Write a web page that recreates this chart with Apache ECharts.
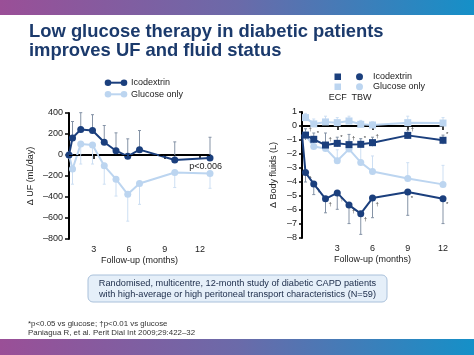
<!DOCTYPE html>
<html><head><meta charset="utf-8">
<script src="https://cdn.jsdelivr.net/npm/echarts@6/dist/echarts.min.js"></script>
<style>html,body{margin:0;padding:0;background:#fff}#c{width:474px;height:355px}</style>
</head><body><div id="c"></div>
<script>
// ---- Left panel: change in UF (mL/day) ----
const monthsUF = [0, 0.3, 1, 2, 3, 4, 5, 6, 9, 12];
const ufIco = [0, 163, 243, 233, 121, 41, -13, 51, -48, -29];
const ufIcoHigh = [null, 319, 403, 384, 281, 211, 154, 233, 125, 169];
const ufGlu = [0, -134, 105, 96, -103, -230, -374, -272, -167, -177];
const ufGluLow = [null, -278, -86, -86, -278, -391, -630, -470, -310, -317];
const ufTickPos = [2.1, 5.1, 8.15, 11.15];
const ufTickLabels = ['3', '6', '9', '12'];

// ---- Right panel: change in body fluids (L) ----
const monthsBF = [0.3, 1, 2, 3, 4, 5, 6, 9, 12];
const ecfIco = [-0.65, -0.95, -1.36, -1.24, -1.33, -1.31, -1.19, -0.67, -1.02];
const ecfIcoHigh = [-0.2, -0.5, -0.5, -0.8, -0.6, -0.9, -0.8, -0.3, -0.65];
const ecfIcoLow = [-1.0, -1.2, -1.6, -1.5, -1.6, -1.55, -1.45, -0.9, -1.3];
const ecfGlu = [0.6, 0.15, 0.29, 0.24, 0.36, 0.12, 0.07, 0.24, 0.21];
const ecfGluHigh = [0.9, 0.5, 0.7, 0.6, 0.7, 0.4, 0.3, 0.7, 0.6];
const tbwIco = [-3.33, -4.14, -5.2, -4.78, -5.65, -6.26, -5.15, -4.71, -5.2];
const tbwIcoLow = [-4.0, -4.9, -6.2, -5.95, -6.97, -7.74, -6.55, -6.38, -6.97];
const tbwGlu = [-0.65, -1.47, -1.6, -2.48, -1.65, -2.6, -3.25, -3.75, -4.17];
const tbwGluHigh = [-0.2, -1.1, -1.2, -1.7, -1.0, -1.0, -2.14, -2.62, -2.81];
const sigEcf = ['†', '*', '†', '*', '†', '*', '†', '†', '*'];
const sigTbw = ['†', '†', '†', '†', '†', '†', '†', '*', '*'];
const bfTicks = [3, 6, 9, 12];

const DARK = '#1b3f7d', LIGHT = '#bcd5f0', BARD = '#8593a6', BARL = '#cddff3';
const zip = (xs, ys) => xs.map((x, i) => [x, ys[i]]);

function errBar(color, capAtHigh, sig, sigDy) {
  return function (params, api) {
    const x = api.value(0), lo = api.value(1), hi = api.value(2);
    const a = api.coord([x, lo]), b = api.coord([x, hi]);
    const cap = capAtHigh ? b : a;
    const ch = [
      {type: 'line', shape: {x1: a[0], y1: a[1], x2: b[0], y2: b[1]}, style: {stroke: color, lineWidth: 1}},
      {type: 'line', shape: {x1: cap[0] - 1.5, y1: cap[1], x2: cap[0] + 1.5, y2: cap[1]}, style: {stroke: color, lineWidth: 1}}
    ];
    if (sig) {
      const pv = api.coord([x, api.value(3)]);
      ch.push({type: 'text', style: {text: sig[params.dataIndex], x: pv[0] + 3, y: pv[1] + sigDy, fontSize: 6, fill: '#333', fontFamily: 'Liberation Sans'}});
    }
    return {type: 'group', children: ch};
  };
}

const axisFont = {fontSize: 9, color: '#222', fontFamily: 'Liberation Sans'};
const chart = echarts.init(document.getElementById('c'), null, {renderer: 'canvas'});

chart.setOption({
  animation: false,
  textStyle: {fontFamily: 'Liberation Sans'},
  title: {
    text: 'Low glucose therapy in diabetic patients\nimproves UF and fluid status',
    left: 29, top: 22, padding: 0,
    textStyle: {fontSize: 18.4, fontWeight: 'bold', color: '#1b3a6c', lineHeight: 19, fontFamily: 'Liberation Sans'}
  },
  grid: [
    {left: 69, right: 264, top: 113, bottom: 116},
    {left: 302, right: 31, top: 112, bottom: 117}
  ],
  xAxis: [
    {type: 'value', gridIndex: 0, min: 0, max: 12,
      name: 'Follow-up (months)', nameLocation: 'middle', nameGap: 17, nameTextStyle: axisFont,
      axisLine: {lineStyle: {color: '#000', width: 2}},
      axisTick: {show: true, length: 4, inside: false, customValues: ufTickPos, lineStyle: {color: '#000', width: 1.5}},
      axisLabel: Object.assign({margin: 6, customValues: ufTickPos,
        formatter: v => ufTickLabels[ufTickPos.findIndex(p => Math.abs(p - v) < 1e-6)]}, axisFont),
      splitLine: {show: false}},
    {type: 'value', gridIndex: 1, min: 0, max: 12,
      name: 'Follow-up (months)', nameLocation: 'middle', nameGap: 17, nameTextStyle: axisFont,
      axisLine: {lineStyle: {color: '#000', width: 2}},
      axisTick: {show: true, length: 4, customValues: bfTicks, lineStyle: {color: '#000', width: 1.5}},
      axisLabel: Object.assign({margin: 6, customValues: bfTicks}, axisFont),
      splitLine: {show: false}}
  ],
  yAxis: [
    {type: 'value', gridIndex: 0, min: -800, max: 400, interval: 200,
      name: 'Δ UF (mL/day)', nameLocation: 'middle', nameGap: 34, nameTextStyle: axisFont,
      axisLine: {show: true, lineStyle: {color: '#000', width: 2}},
      axisTick: {show: true, length: 4, lineStyle: {color: '#000', width: 1.5}},
      axisLabel: Object.assign({margin: 6, formatter: v => String(v).replace('-', '–')}, axisFont),
      splitLine: {show: false}},
    {type: 'value', gridIndex: 1, min: -8, max: 1, interval: 1,
      name: 'Δ Body fluids (L)', nameLocation: 'middle', nameGap: 24, nameTextStyle: axisFont,
      axisLine: {show: true, lineStyle: {color: '#000', width: 2}},
      axisTick: {show: true, length: 3, lineStyle: {color: '#000', width: 1.5}},
      axisLabel: Object.assign({margin: 5, formatter: v => String(v).replace('-', '–')}, axisFont),
      splitLine: {show: false}}
  ],
  series: [
    // left error bars
    {type: 'custom', xAxisIndex: 0, yAxisIndex: 0, z: 1, renderItem: errBar(BARL, false),
      data: monthsUF.map((m, i) => [m, ufGluLow[i], ufGlu[i]]).filter((d, i) => ufGluLow[i] !== null)},
    {type: 'custom', xAxisIndex: 0, yAxisIndex: 0, z: 1, renderItem: errBar(BARD, true),
      data: monthsUF.map((m, i) => [m, ufIco[i], ufIcoHigh[i]]).filter((d, i) => ufIcoHigh[i] !== null)},
    {name: 'Glucose only', type: 'line', xAxisIndex: 0, yAxisIndex: 0, z: 3, data: zip(monthsUF, ufGlu),
      symbol: 'circle', symbolSize: 7, lineStyle: {color: LIGHT, width: 2}, itemStyle: {color: LIGHT}},
    {name: 'Icodextrin', type: 'line', xAxisIndex: 0, yAxisIndex: 0, z: 4, data: zip(monthsUF, ufIco),
      symbol: 'circle', symbolSize: 7, lineStyle: {color: DARK, width: 2}, itemStyle: {color: DARK},
      markLine: {silent: true, symbol: 'none', label: {show: false}, lineStyle: {color: '#000', type: [4, 2], width: 1.2},
        data: [[{coord: [0, 0]}, {coord: [12, 0]}]]}},
    // right error bars
    {type: 'custom', xAxisIndex: 1, yAxisIndex: 1, z: 1, renderItem: errBar(BARL, true),
      data: monthsBF.map((m, i) => [m, ecfGlu[i], ecfGluHigh[i]])},
    {type: 'custom', xAxisIndex: 1, yAxisIndex: 1, z: 1, renderItem: errBar(BARL, true),
      data: monthsBF.map((m, i) => [m, tbwGlu[i], tbwGluHigh[i]])},
    {type: 'custom', xAxisIndex: 1, yAxisIndex: 1, z: 1, renderItem: errBar(BARD, true, sigEcf, -9),
      data: monthsBF.map((m, i) => [m, ecfIcoLow[i], ecfIcoHigh[i], ecfIco[i]])},
    {type: 'custom', xAxisIndex: 1, yAxisIndex: 1, z: 1, renderItem: errBar(BARD, false, sigTbw, 3),
      data: monthsBF.map((m, i) => [m, tbwIcoLow[i], tbwIco[i], tbwIco[i]])},
    {name: 'ECF Glucose only', type: 'line', xAxisIndex: 1, yAxisIndex: 1, z: 3, data: zip(monthsBF, ecfGlu),
      symbol: 'rect', symbolSize: 7, lineStyle: {color: LIGHT, width: 2}, itemStyle: {color: LIGHT}},
    {name: 'TBW Glucose only', type: 'line', xAxisIndex: 1, yAxisIndex: 1, z: 3, data: zip(monthsBF, tbwGlu),
      symbol: 'circle', symbolSize: 7, lineStyle: {color: LIGHT, width: 2}, itemStyle: {color: LIGHT}},
    {name: 'ECF Icodextrin', type: 'line', xAxisIndex: 1, yAxisIndex: 1, z: 4, data: zip(monthsBF, ecfIco),
      symbol: 'rect', symbolSize: 7, lineStyle: {color: DARK, width: 2}, itemStyle: {color: DARK}},
    {name: 'TBW Icodextrin', type: 'line', xAxisIndex: 1, yAxisIndex: 1, z: 4,
      data: [{value: [0, -0.6], symbol: 'none'}].concat(zip(monthsBF, tbwIco)),
      symbol: 'circle', symbolSize: 7, lineStyle: {color: DARK, width: 2}, itemStyle: {color: DARK}}
  ],
  graphic: [
    {type: 'rect', left: 0, top: 0, z: 0, shape: {width: 474, height: 15},
      style: {fill: new echarts.graphic.LinearGradient(0, 0, 1, 0, [{offset: 0, color: '#9a4f97'}, {offset: 0.5, color: '#6b6aa9'}, {offset: 1, color: '#1590c8'}])}},
    {type: 'rect', left: 0, top: 339, z: 0, shape: {width: 474, height: 16},
      style: {fill: new echarts.graphic.LinearGradient(0, 0, 1, 0, [{offset: 0, color: '#9a4f97'}, {offset: 0.5, color: '#6b6aa9'}, {offset: 1, color: '#1590c8'}])}},
    // left legend
    {type: 'line', shape: {x1: 107, y1: 82.7, x2: 125, y2: 82.7}, style: {stroke: DARK, lineWidth: 2}},
    {type: 'circle', shape: {cx: 108, cy: 82.7, r: 3.3}, style: {fill: DARK}},
    {type: 'circle', shape: {cx: 124, cy: 82.7, r: 3.3}, style: {fill: DARK}},
    {type: 'text', x: 131, y: 82.7, style: {text: 'Icodextrin', fontSize: 9, fill: '#222', verticalAlign: 'middle', fontFamily: 'Liberation Sans'}},
    {type: 'line', shape: {x1: 107, y1: 94.3, x2: 125, y2: 94.3}, style: {stroke: LIGHT, lineWidth: 2}},
    {type: 'circle', shape: {cx: 108, cy: 94.3, r: 3.3}, style: {fill: LIGHT}},
    {type: 'circle', shape: {cx: 124, cy: 94.3, r: 3.3}, style: {fill: LIGHT}},
    {type: 'text', x: 131, y: 94.3, style: {text: 'Glucose only', fontSize: 9, fill: '#222', verticalAlign: 'middle', fontFamily: 'Liberation Sans'}},
    {type: 'text', x: 222, y: 167, style: {text: 'p<0.006', fontSize: 9, fill: '#222', align: 'right', verticalAlign: 'middle', fontFamily: 'Liberation Sans'}},
    // right legend
    {type: 'rect', shape: {x: 334.5, y: 73.5, width: 6.5, height: 6.5}, style: {fill: DARK}},
    {type: 'circle', shape: {cx: 359.5, cy: 76.7, r: 3.5}, style: {fill: DARK}},
    {type: 'text', x: 373, y: 76.7, style: {text: 'Icodextrin', fontSize: 9, fill: '#222', verticalAlign: 'middle', fontFamily: 'Liberation Sans'}},
    {type: 'rect', shape: {x: 334.5, y: 83.5, width: 6.5, height: 6.5}, style: {fill: LIGHT}},
    {type: 'circle', shape: {cx: 359.5, cy: 86.7, r: 3.5}, style: {fill: LIGHT}},
    {type: 'text', x: 373, y: 86.7, style: {text: 'Glucose only', fontSize: 9, fill: '#222', verticalAlign: 'middle', fontFamily: 'Liberation Sans'}},
    {type: 'text', x: 337.7, y: 97.5, style: {text: 'ECF', fontSize: 9, fill: '#222', align: 'center', verticalAlign: 'middle', fontFamily: 'Liberation Sans'}},
    {type: 'text', x: 361.5, y: 97.5, style: {text: 'TBW', fontSize: 9, fill: '#222', align: 'center', verticalAlign: 'middle', fontFamily: 'Liberation Sans'}},
    // study box
    {type: 'rect', shape: {x: 88, y: 275, width: 299, height: 27, r: 5}, style: {fill: '#e5eff9', stroke: '#a9c0da', lineWidth: 1}},
    {type: 'text', x: 237.5, y: 283.5, style: {text: 'Randomised, multicentre, 12-month study of diabetic CAPD patients', fontSize: 9.2, fill: '#1a2a48', align: 'center', verticalAlign: 'middle', fontFamily: 'Liberation Sans'}},
    {type: 'text', x: 237.5, y: 294.5, style: {text: 'with high-average or high peritoneal transport characteristics (N=59)', fontSize: 9.2, fill: '#1a2a48', align: 'center', verticalAlign: 'middle', fontFamily: 'Liberation Sans'}},
    // footnotes
    {type: 'text', x: 28, y: 324, style: {text: '*p<0.05 vs glucose; †p<0.01 vs glucose', fontSize: 7.9, fill: '#333', verticalAlign: 'middle', fontFamily: 'Liberation Sans'}},
    {type: 'text', x: 28, y: 333, style: {text: 'Paniagua R, et al. Perit Dial Int 2009;29:422–32', fontSize: 7.9, fill: '#333', verticalAlign: 'middle', fontFamily: 'Liberation Sans'}}
  ]
});
</script></body></html>
